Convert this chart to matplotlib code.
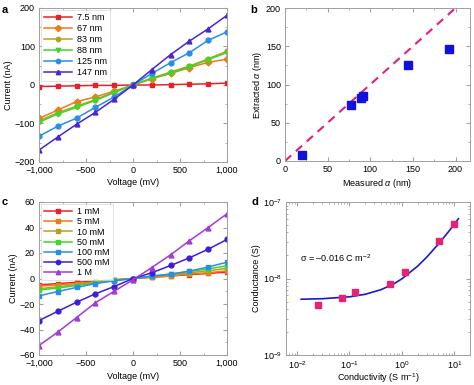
import matplotlib
matplotlib.use("Agg")
import matplotlib.pyplot as plt
import numpy as np
from matplotlib.ticker import FuncFormatter, MultipleLocator, AutoMinorLocator, LogLocator, NullFormatter

plt.rcParams['font.family'] = ['Liberation Sans', 'DejaVu Sans']
plt.rcParams['font.size'] = 6.5
plt.rcParams['mathtext.fontset'] = 'custom'
plt.rcParams['mathtext.rm'] = 'Liberation Sans'
plt.rcParams['mathtext.it'] = 'Liberation Sans:italic'

# panel a: I-V for different pore sizes
voltage = [-1000, -800, -600, -400, -200, 0, 200, 400, 600, 800, 1000]
pore_labels = ["7.5 nm", "67 nm", "83 nm", "88 nm", "125 nm", "147 nm"]
pore_current = [
    [-4, -3, -2, -1, -1, 0, 0, 1, 2, 3, 5],
    [-87, -65, -43, -31, -16, 0, 16, 30, 45, 59, 67],
    [-93, -72, -55, -38, -18, 0, 17, 34, 49, 68, 88],
    [-97, -75, -58, -40, -20, 0, 18, 31, 47, 66, 84],
    [-133, -107, -86, -58, -31, 0, 30, 58, 84, 116, 138],
    [-169, -135, -102, -71, -37, 0, 40, 79, 114, 146, 181],
]
pore_colors = ["#e8202a", "#f07a1a", "#b5a21a", "#3ed62c", "#2a8ee8", "#4a25d8"]
pore_markers = ["s", "D", "o", "v", "o", "^"]

# panel b: extracted vs measured size
measured = [20, 77, 89, 92, 144, 192]
extracted = [8, 73, 83, 85, 125, 147]
ideal = [0, 200]

# panel c: I-V for different concentrations
conc_labels = ["1 mM", "5 mM", "10 mM", "50 mM", "100 mM", "500 mM", "1 M"]
conc_current = [
    [-5, -4, -3, -2, -1, 0, 1, 2, 3, 4, 5],
    [-6, -5, -4, -2.5, -1, 0, 1, 2, 3.5, 4.5, 6],
    [-8, -6.5, -5, -3, -1.5, 0, 1.5, 3, 4.5, 6, 8],
    [-9, -7.5, -5.5, -3.5, -1.5, 0, 2, 3.5, 5.5, 7.5, 10],
    [-13.6, -10.2, -7, -4, -1.8, 0, 1.8, 3.4, 5.8, 9, 12.8],
    [-33, -25.7, -18.6, -12, -6.3, 0, 4.5, 10.2, 16.2, 23, 30.6],
    [-52.6, -42, -30.6, -19, -10, -1, 8.6, 18.6, 29.6, 40, 50.8],
]
conc_colors = ["#e8202a", "#f07a1a", "#b5a21a", "#3ed62c", "#2a8ee8", "#3b1fd6", "#a33ad8"]
conc_markers = ["s", "s", "s", "s", "s", "o", "^"]

# panel d: conductance vs conductivity
kappa = [0.0255, 0.073, 0.127, 0.59, 1.13, 5.08, 10.0]
conductance = [4.57e-9, 5.6e-9, 6.7e-9, 8.5e-9, 1.21e-8, 3.05e-8, 5.1e-8]
fit_kappa = [0.012, 0.03, 0.1, 0.2, 0.4, 0.7, 1, 2, 3, 5, 8, 12]
fit_g = [5.36e-9, 5.44e-9, 5.76e-9, 6.22e-9, 7.14e-9, 8.5e-9, 9.9e-9, 1.45e-8,
         1.91e-8, 2.83e-8, 4.2e-8, 6.05e-8]

fig = plt.figure(figsize=(4.74, 3.85), dpi=100)
W, H = 474, 385
def axbox(l, t, r, b):
    return fig.add_axes([l / W, 1 - b / H, (r - l) / W, (b - t) / H])

ax_a = axbox(39, 8, 227, 162)
ax_b = axbox(285, 8, 470, 161)
ax_c = axbox(39, 202, 227, 355)
ax_d = axbox(286, 202, 470, 355)

comma = FuncFormatter(lambda v, p: f"{v:,.0f}".replace("-", "\u2212"))
minus = FuncFormatter(lambda v, p: f"{v:.0f}".replace("-", "\u2212"))

def style(ax):
    for s in ax.spines.values():
        s.set_color("#a0a0a0")
        s.set_linewidth(0.7)
    ax.tick_params(which="both", direction="in", color="#a0a0a0", top=True, right=True,
                   labelsize=6.5, pad=3)
    ax.tick_params(which="major", length=3)
    ax.tick_params(which="minor", length=1.5)

def small_legend(ax, spacing):
    leg = ax.legend(loc="upper left", fontsize=6.5, handlelength=3, frameon=True, fancybox=False,
                    borderpad=0.35, labelspacing=spacing, handletextpad=0.6, borderaxespad=0.25,
                    markerscale=0.9)
    leg.get_frame().set_edgecolor("#d0d0d0")
    leg.get_frame().set_linewidth(0.5)

for i in range(len(pore_labels)):
    ax_a.plot(voltage, pore_current[i], color=pore_colors[i], marker=pore_markers[i],
              ms=3.5, lw=1.1, label=pore_labels[i])
ax_a.set_xlim(-1000, 1000)
ax_a.set_ylim(-200, 200)
ax_a.xaxis.set_major_locator(MultipleLocator(500))
ax_a.yaxis.set_major_locator(MultipleLocator(100))
ax_a.xaxis.set_minor_locator(AutoMinorLocator(2))
ax_a.yaxis.set_minor_locator(AutoMinorLocator(2))
ax_a.xaxis.set_major_formatter(comma)
ax_a.yaxis.set_major_formatter(minus)
ax_a.set_xlabel("Voltage (mV)", labelpad=2)
ax_a.set_ylabel("Current (nA)", labelpad=1)
style(ax_a)
small_legend(ax_a, 0.22)

ax_b.plot(ideal, ideal, color="#e0207a", lw=1.5, ls=(0, (4, 3)))
ax_b.plot(measured, extracted, ls="none", marker="s", ms=6, color="#1010e0")
ax_b.set_xlim(0, 217)
ax_b.set_ylim(0, 200)
ax_b.xaxis.set_major_locator(MultipleLocator(50))
ax_b.yaxis.set_major_locator(MultipleLocator(50))
ax_b.xaxis.set_minor_locator(AutoMinorLocator(2))
ax_b.yaxis.set_minor_locator(AutoMinorLocator(2))
ax_b.set_xlabel(r"Measured $\alpha$ (nm)", labelpad=2)
ax_b.set_ylabel(r"Extracted $\alpha$ (nm)", labelpad=1)
style(ax_b)

for i in range(len(conc_labels)):
    ax_c.plot(voltage, conc_current[i], color=conc_colors[i], marker=conc_markers[i],
              ms=3.5, lw=1.1, label=conc_labels[i])
ax_c.set_xlim(-1000, 1000)
ax_c.set_ylim(-60, 60)
ax_c.xaxis.set_major_locator(MultipleLocator(500))
ax_c.yaxis.set_major_locator(MultipleLocator(20))
ax_c.xaxis.set_minor_locator(AutoMinorLocator(2))
ax_c.yaxis.set_minor_locator(AutoMinorLocator(2))
ax_c.xaxis.set_major_formatter(comma)
ax_c.yaxis.set_major_formatter(minus)
ax_c.set_xlabel("Voltage (mV)", labelpad=3)
ax_c.set_ylabel("Current (nA)", labelpad=1)
style(ax_c)
small_legend(ax_c, 0.12)

ax_d.plot(fit_kappa, fit_g, color="#1a1acc", lw=1.2)
ax_d.plot(kappa, conductance, ls="none", marker="s", ms=4, color="#e8207a")
ax_d.set_xscale("log")
ax_d.set_yscale("log")
ax_d.set_xlim(10 ** -2.21, 10 ** 1.3)
ax_d.set_ylim(1e-9, 1e-7)
ax_d.xaxis.set_minor_locator(LogLocator(base=10, subs=np.arange(2, 10)))
ax_d.yaxis.set_minor_locator(LogLocator(base=10, subs=np.arange(2, 10)))
ax_d.xaxis.set_minor_formatter(NullFormatter())
ax_d.yaxis.set_minor_formatter(NullFormatter())
ax_d.set_xlabel(r"Conductivity (S m$^{-1}$)", labelpad=0)
ax_d.set_ylabel("Conductance (S)", labelpad=1)
style(ax_d)
ax_d.text(0.0115, 1.85e-8, "\u03c3 = \u20130.016 C m$^{-2}$", fontsize=6.5, va="center")

for lbl, x, y in [("a", 2, 5), ("b", 250, 5), ("c", 2, 197), ("d", 252, 197)]:
    fig.text(x / W, 1 - y / H, lbl, fontsize=8, fontweight="bold", va="top", ha="left")

fig.savefig("out.png", dpi=100)
